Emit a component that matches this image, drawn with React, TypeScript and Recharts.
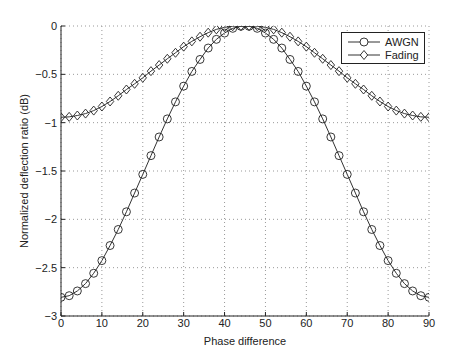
import React from "react";
import {
  LineChart,
  Line,
  XAxis,
  YAxis,
  CartesianGrid,
  Legend,
} from "recharts";

const phases = [
  0, 2, 4, 6, 8, 10, 12, 14, 16, 18, 20, 22, 24, 26, 28, 30, 32, 34, 36, 38, 40, 42, 44,
  46, 48, 50, 52, 54, 56, 58, 60, 62, 64, 66, 68, 70, 72, 74, 76, 78, 80, 82, 84, 86, 88, 90,
];

const awgn = [
  -2.807, -2.79, -2.741, -2.665, -2.558, -2.427, -2.271, -2.105, -1.922, -1.728, -1.535,
  -1.341, -1.148, -0.961, -0.785, -0.622, -0.47, -0.346, -0.228, -0.138, -0.073, -0.024,
  -0.003, -0.003, -0.024, -0.073, -0.138, -0.228, -0.346, -0.47, -0.622, -0.785, -0.961,
  -1.148, -1.341, -1.535, -1.728, -1.922, -2.105, -2.271, -2.427, -2.558, -2.665, -2.741,
  -2.79, -2.807,
];

const fading = [
  -0.944, -0.94, -0.926, -0.906, -0.875, -0.833, -0.781, -0.722, -0.657, -0.598, -0.536,
  -0.467, -0.404, -0.339, -0.277, -0.214, -0.159, -0.111, -0.069, -0.035, -0.014, -0.002,
  0, 0, -0.002, -0.014, -0.035, -0.069, -0.111, -0.159, -0.214, -0.277, -0.339, -0.404,
  -0.467, -0.536, -0.598, -0.657, -0.722, -0.781, -0.833, -0.875, -0.906, -0.926, -0.94,
  -0.944,
];

const xTicks = [0, 10, 20, 30, 40, 50, 60, 70, 80, 90];
const yTicks = [0, -0.5, -1, -1.5, -2, -2.5, -3];

const data = phases.map((p, i) => ({ phase: p, awgn: awgn[i], fading: fading[i] }));

const FONT = "'Liberation Sans', Arial, Helvetica, sans-serif";
const INK = "#222";

const circleDot = (props: any) => (
  <circle
    key={`c-${props.index}`}
    cx={props.cx}
    cy={props.cy}
    r={4}
    fill="none"
    stroke={INK}
    strokeWidth={0.9}
  />
);

const diamondDot = (props: any) => {
  const { cx, cy } = props;
  return (
    <path
      key={`d-${props.index}`}
      d={`M${cx},${cy - 4.5}L${cx + 3.7},${cy}L${cx},${cy + 4.5}L${cx - 3.7},${cy}Z`}
      fill="none"
      stroke={INK}
      strokeWidth={0.9}
    />
  );
};

const yFmt = (v: number) => (v === 0 ? "0" : `\u2212${Math.abs(v)}`);

const LegendBox = () => (
  <svg width={84} height={32} style={{ display: "block" }}>
    <rect x={0.5} y={0.5} width={83} height={31} fill="#fff" stroke={INK} strokeWidth={1} />
    <line x1={7} y1={10} x2={39} y2={10} stroke="#333" strokeWidth={1} />
    <circle cx={23} cy={10} r={4} fill="#fff" stroke={INK} strokeWidth={0.9} />
    <text x={44} y={14} fontSize={11} fontFamily={FONT} fill={INK}>
      AWGN
    </text>
    <line x1={7} y1={23} x2={39} y2={23} stroke="#333" strokeWidth={1} />
    <path d="M23,18.5L26.7,23L23,27.5L19.3,23Z" fill="#fff" stroke={INK} strokeWidth={0.9} />
    <text x={44} y={27} fontSize={11} fontFamily={FONT} fill={INK}>
      Fading
    </text>
  </svg>
);

// centred on the plot area, left of the tick labels
const YLabel = () => (
  <text
    x={25}
    y={171}
    transform="rotate(-90 25 171)"
    textAnchor="middle"
    dominantBaseline="middle"
    fontSize={11}
    fontFamily={FONT}
    fill={INK}
  >
    Normalized deflection ratio (dB)
  </text>
);

export default function App() {
  return (
    <div style={{ position: "absolute", left: 0, top: 0, background: "#fff" }}>
      <LineChart
        width={474}
        height={355}
        data={data}
        margin={{ top: 26, right: 45, bottom: 0, left: 0 }}
      >
        <CartesianGrid
          stroke="#999"
          strokeDasharray="1 3"
          horizontalValues={yTicks}
          verticalValues={xTicks}
        />
        <XAxis
          dataKey="phase"
          type="number"
          domain={[0, 90]}
          ticks={xTicks}
          allowDataOverflow
          height={39}
          tickSize={-4}
          tickMargin={7}
          stroke={INK}
          tick={{ fontSize: 11, fontFamily: FONT, fill: INK }}
          label={{
            value: "Phase difference",
            position: "insideBottom",
            offset: 10,
            fontSize: 11,
            fontFamily: FONT,
            fill: INK,
          }}
        />
        <XAxis
          xAxisId="top"
          orientation="top"
          type="number"
          domain={[0, 90]}
          ticks={xTicks}
          height={0}
          tickSize={-4}
          tick={false}
          stroke={INK}
        />
        <YAxis
          type="number"
          domain={[-3, 0]}
          ticks={yTicks}
          allowDataOverflow
          width={61}
          tickSize={-4}
          tickMargin={8}
          stroke={INK}
          tickFormatter={yFmt}
          tick={{ fontSize: 11, fontFamily: FONT, fill: INK }}
          label={<YLabel />}
        />
        <YAxis
          yAxisId="right"
          orientation="right"
          type="number"
          domain={[-3, 0]}
          ticks={yTicks}
          width={0}
          tickSize={-4}
          tick={false}
          stroke={INK}
        />
        <Line
          dataKey="awgn"
          name="AWGN"
          stroke="#333"
          strokeWidth={1}
          dot={circleDot}
          activeDot={false}
          isAnimationActive={false}
        />
        <Line
          dataKey="fading"
          name="Fading"
          stroke="#333"
          strokeWidth={1}
          dot={diamondDot}
          activeDot={false}
          isAnimationActive={false}
        />
        <Legend
          layout="horizontal"
          verticalAlign="middle"
          content={<LegendBox />}
          wrapperStyle={{ position: "absolute", left: 341, top: 32, width: 84, height: 32 }}
        />
      </LineChart>
    </div>
  );
}
